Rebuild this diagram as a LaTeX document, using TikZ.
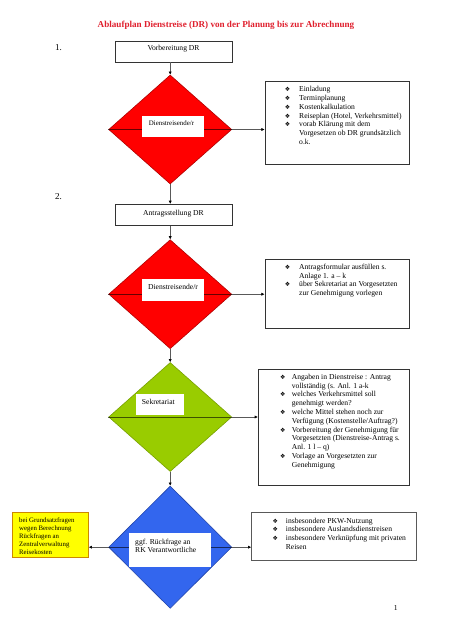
\documentclass[tikz,border=0pt]{standalone}
\usepackage{fontspec}
\setmainfont{Liberation Serif}
\newfontfamily\symfont{DejaVu Sans}
\usetikzlibrary{shapes.geometric,arrows.meta}
\definecolor{titlered}{HTML}{E0202E}
\definecolor{dred}{HTML}{FF0000}
\definecolor{dredline}{HTML}{B00000}
\definecolor{dgreen}{HTML}{99CC00}
\definecolor{dgreenline}{HTML}{77A000}
\definecolor{dblue}{HTML}{3366EE}
\definecolor{dblueline}{HTML}{2244AA}
\definecolor{dyellow}{HTML}{FFFF00}
\definecolor{dgold}{HTML}{CC8800}
\newcommand{\fs}{\fontsize{7.6pt}{8.8pt}\selectfont}
\newcommand{\fsmall}{\fontsize{6.8pt}{7.8pt}\selectfont}
\newcommand{\bglyph}{{\symfont\fontsize{6pt}{6pt}\selectfont ❖}}
\newcommand{\bl}[2]{\hbox{\makebox[#1][l]{\bglyph}#2}}
\newcommand{\cl}[2]{\hbox{\hspace*{#1}#2}}
\newcommand{\lst}[1]{\vtop{\fs\baselineskip=8.8pt\lineskiplimit=-20pt #1}}
\begin{document}
\begin{tikzpicture}[x=1pt,y=-1pt,
  plainbox/.style={draw=black!80,line width=0.8pt,inner sep=0pt},
  decision/.style={diamond,inner sep=0pt,minimum width=123pt,line width=0.6pt},
  labelbox/.style={fill=white,inner sep=0pt},
  txt/.style={inner sep=0pt,font=\fs},
  flow/.style={draw=black!65,line width=0.6pt,-{Latex[length=3.2pt,width=3.2pt,color=black]}},
  midline/.style={draw=black,draw opacity=0.6,line width=0.7pt}]
\useasboundingbox (0,0) rectangle (452,640);
\fill[white] (0,0) rectangle (452,640);

% title and step numbers
\node[inner sep=0pt,font=\bfseries\fontsize{9.1pt}{10pt}\selectfont,text=titlered] (title) at (226,25.6) {Ablaufplan Dienstreise (DR) von der Planung bis zur Abrechnung};
\node[inner sep=0pt,font=\fontsize{9.1pt}{10pt}\selectfont] (n1) at (58.5,48) {1.};
\node[inner sep=0pt,font=\fontsize{9.1pt}{10pt}\selectfont] (n2) at (58.5,196.7) {2.};

% ---------- step 1
\node[plainbox,minimum width=117pt,minimum height=21pt] (b1) at (173.5,51.5) {};
\node[txt] (b1t) at (173.5,49) {Vorbereitung DR};
\node[decision,minimum height=109pt,fill=dred,draw=dredline] (d1) at (170.2,129.5) {};
\draw[midline] (d1.west) -- (d1.east);
\node[labelbox,minimum width=62pt,minimum height=21.3pt] (l1) at (173,126.3) {};
\node[txt,font=\fontsize{6.9pt}{8pt}\selectfont] (l1t) at (171.5,122.7) {Dienstreisende/r};
\node[plainbox,minimum width=144pt,minimum height=82.6pt] (r1) at (337,123) {};
\node[inner sep=0pt,anchor=base west] (r1t) at (284.6,91.6) {\lst{%
  \bl{14.4pt}{Einladung}
  \bl{14.4pt}{Terminplanung}
  \bl{14.4pt}{Kostenkalkulation}
  \bl{14.4pt}{Reiseplan (Hotel, Verkehrsmittel)}
  \bl{14.4pt}{vorab Klärung mit dem}
  \cl{14.4pt}{Vorgesetzen ob DR grundsätzlich}
  \cl{14.4pt}{o.k.}}};
\draw[flow] (d1.north |- b1.south) -- (d1.north);
\draw[flow] (d1.east) -- (d1.east -| r1.west);

% ---------- step 2
\node[plainbox,minimum width=117pt,minimum height=21.4pt] (b2) at (173.5,215) {};
\node[txt] (b2t) at (173.5,213.3) {Antragsstellung DR};
\node[decision,minimum height=109pt,fill=dred,draw=dredline] (d2) at (170.2,294.2) {};
\draw[midline] (d2.west) -- (d2.east);
\node[labelbox,minimum width=62pt,minimum height=21.4pt] (l2) at (173,290) {};
\node[txt] (l2t) at (173,287.3) {Dienstreisende/r};
\node[plainbox,minimum width=144pt,minimum height=68.7pt] (r2) at (337,293.7) {};
\node[inner sep=0pt,anchor=base west] (r2t) at (284.6,269.2) {\lst{%
  \bl{14.4pt}{Antragsformular ausfüllen s.}
  \cl{14.4pt}{Anlage 1. a – k}
  \bl{14.4pt}{über Sekretariat an Vorgesetzten}
  \cl{14.4pt}{zur Genehmigung vorlegen}}};
\draw[flow] (d1.south) -- (d1.south |- b2.north);
\draw[flow] (d2.north |- b2.south) -- (d2.north);
\draw[flow] (d2.east) -- (d2.east -| r2.west);

% ---------- step 3
\node[decision,minimum height=109pt,fill=dgreen,draw=dgreenline] (d3) at (170.2,417) {};
\draw[midline] (d3.west) -- (d3.east);
\node[labelbox,minimum width=48pt,minimum height=20.7pt] (l3) at (160,404.3) {};
\node[txt,anchor=west] (l3t) at (141.7,401.7) {Sekretariat};
\node[plainbox,minimum width=151pt,minimum height=116.4pt] (r3) at (333.8,427.5) {};
\node[inner sep=0pt,anchor=base west] (r3t) at (279.8,379.2) {\lst{%
  \bl{11.9pt}{Angaben in Dienstreise : Antrag}
  \cl{11.9pt}{vollständig (s. Anl. 1 a-k}
  \bl{11.9pt}{welches Verkehrsmittel soll}
  \cl{11.9pt}{genehmigt werden?}
  \bl{11.9pt}{welche Mittel stehen noch zur}
  \cl{11.9pt}{Verfügung (Kostenstelle/Auftrag?)}
  \bl{11.9pt}{Vorbereitung der Genehmigung für}
  \cl{11.9pt}{Vorgesetzten (Dienstreise-Antrag s.}
  \cl{11.9pt}{Anl. 1 l – q)}
  \bl{11.9pt}{Vorlage an Vorgesetzten zur}
  \cl{11.9pt}{Genehmigung}}};
\draw[flow] (d2.south) -- (d3.north);
\draw[flow] (d3.east) -- (d3.east -| r3.west);

% ---------- step 4
\node[decision,minimum height=122.3pt,fill=dblue,draw=dblueline] (d4) at (170.2,547.2) {};
\draw[midline] (d4.west) -- (d4.east);
\node[labelbox,minimum width=82pt,minimum height=34pt] (l4) at (170,550.3) {};
\node[inner sep=0pt,anchor=base west] (l4t) at (135,544.3) {\vtop{\fs\baselineskip=8.6pt\hbox{ggf. Rückfrage an}\hbox{RK Verantwortliche}}};
\node[plainbox,minimum width=164.6pt,minimum height=48pt,draw=black!65,line width=1pt] (r4) at (334,536.7) {};
\node[inner sep=0pt,anchor=base west] (r4t) at (272.5,523.2) {\lst{\baselineskip=8.6pt
  \bl{13.2pt}{insbesondere PKW-Nutzung}
  \bl{13.2pt}{insbesondere Auslandsdienstreisen}
  \bl{13.2pt}{insbesondere Verknüpfung mit privaten}
  \cl{13.2pt}{Reisen}}};
\node[fill=dyellow,draw=dgold,line width=0.8pt,inner sep=0pt,minimum width=76pt,minimum height=44.3pt] (y4) at (50.3,534.8) {};
\node[inner sep=0pt,anchor=base west] (y4t) at (19,522.9) {\vtop{\fsmall\baselineskip=7.8pt
  \hbox{bei Grundsatzfragen}\hbox{wegen Berechnung}\hbox{Rückfragen an}\hbox{Zentralverwaltung}\hbox{Reisekosten}}};
\draw[flow] (d3.south) -- (d4.north);
\draw[flow] (d4.east) -- (d4.east -| r4.west);
\draw[flow] (d4.west) -- (d4.west -| y4.east);

% page number
\node[txt] (pg) at (395.7,607.7) {1};
\end{tikzpicture}
\end{document}
